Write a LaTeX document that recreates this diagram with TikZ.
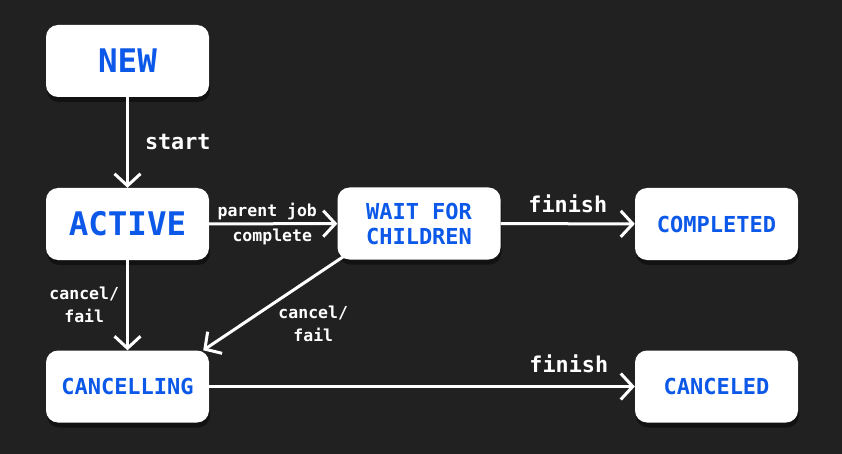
\documentclass[tikz,border=0pt]{standalone}
\usepackage{fontspec}
\setmonofont{DejaVu Sans Mono}
\usetikzlibrary{arrows.meta,shadows}
\definecolor{bg}{RGB}{33,33,33}
\definecolor{stateblue}{RGB}{12,88,232}
\tikzset{
  state/.style={rectangle, rounded corners=12pt, fill=white, draw=none,
    minimum width=163pt, minimum height=72pt, inner sep=0pt,
    text=stateblue, align=center,
    font=\ttfamily\bfseries\fontsize{22}{25}\selectfont,
    drop shadow={shadow xshift=1pt, shadow yshift=-5pt, fill=black, opacity=0.45}},
  bigstate/.style={state, font=\ttfamily\bfseries\fontsize{32.5}{36}\selectfont},
  arr/.style={draw=white, line width=3pt,
    -{Straight Barb[length=12pt, width=26pt, line width=3pt]}},
  lbl/.style={text=white, inner sep=0pt, align=center,
    font=\ttfamily\bfseries\fontsize{16.5}{23}\selectfont},
  biglbl/.style={lbl, font=\ttfamily\bfseries\fontsize{21.8}{25}\selectfont}
}
\begin{document}
\begin{tikzpicture}[x=1pt, y=-1pt]
  \fill[bg] (0,0) rectangle (842,454);
  \useasboundingbox (0,0) rectangle (842,454);

  \node[bigstate] (new) at (127.5,61) {NEW};
  \node[bigstate] (active) at (127.5,224) {ACTIVE};
  \node[state] (wait) at (419,223.5) {WAIT FOR\\CHILDREN};
  \node[state] (completed) at (716.5,224) {COMPLETED};
  \node[state] (cancelling) at (127.5,386.5) {CANCELLING};
  \node[state] (canceled) at (716.5,386.5) {CANCELED};

  \draw[arr] (new) -- node[biglbl, midway, anchor=west, xshift=16pt] {start} (active);
  \draw[arr] (active) --
    node[lbl, midway, xshift=-6pt, yshift=12pt] {parent job}
    node[lbl, midway, xshift=-1pt, yshift=-13pt] {complete} (wait);
  \draw[arr] (wait) -- node[biglbl, midway, yshift=20pt] {finish} (completed);
  \draw[arr] (active) -- node[lbl, midway, anchor=east, xshift=-7pt] {cancel/\\fail} (cancelling);
  \draw[arr] ([xshift=6pt,yshift=3pt]wait.south west) --
    node[lbl, midway, xshift=40pt, yshift=-20pt] {cancel/\\fail}
    ([xshift=-6pt]cancelling.north east);
  \draw[arr] (cancelling) -- node[biglbl, pos=0.845, yshift=23pt] {finish} (canceled);
\end{tikzpicture}
\end{document}
